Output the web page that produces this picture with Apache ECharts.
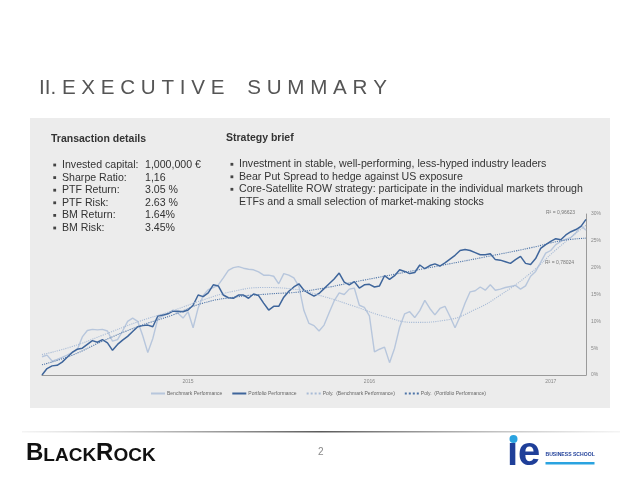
<!DOCTYPE html>
<html><head><meta charset="utf-8">
<script src="https://cdn.jsdelivr.net/npm/echarts@6/dist/echarts.min.js"></script>
<style>html,body{margin:0;padding:0;background:#fff}#c{width:638px;height:478px}</style>
</head><body><div id="c"></div>
<script>
// ---- data ----
const portfolio = [0,1.2,1.7,1.8,2.4,3.3,4.2,4.8,5.0,5.7,6.4,6.1,6.6,6.0,4.6,5.7,6.5,7.2,8.1,9.0,
9.2,9.3,9.0,11.0,11.2,11.4,11.9,11.9,11.8,12.1,13.0,14.9,14.6,15.3,16.8,16.6,14.9,14.4,14.3,14.9,
14.9,14.3,15.1,14.8,13.4,12.1,12.8,12.8,14.5,15.6,16.4,17.0,15.8,15.2,14.7,15.2,16.1,17.0,17.9,19.0,
17.3,16.8,17.4,16.2,16.8,16.9,16.4,16.6,18.5,17.8,18.5,19.6,19.3,18.9,19.1,20.5,19.8,20.4,20.7,20.3,
20.9,21.6,22.3,23.2,23.4,23.2,22.8,22.4,22.4,22.6,21.5,21.4,21.1,20.8,21.5,22.1,20.8,20.6,21.7,23.6,
24.3,24.9,25.4,25.2,26.1,26.7,27.1,27.7,29.0];
const benchmark = [3.4,3.7,2.6,2.9,3.3,3.7,4.2,4.7,7.1,8.3,8.5,8.4,8.5,8.2,6.3,6.6,8.2,10.0,10.6,10.0,
7.3,4.2,6.8,10.5,11.0,11.4,12.1,11.5,10.6,11.8,8.8,12.5,14.8,15.9,16.3,16.8,18.1,19.5,20.0,20.2,
19.9,19.7,19.6,19.2,18.6,18.6,18.4,17.0,18.9,18.6,18.1,16.5,12.0,9.6,9.2,8.2,9.3,11.6,13.8,15.3,
15.0,16.0,16.2,13.0,12.6,11.0,4.3,4.8,5.2,2.3,5.0,8.9,11.4,11.8,10.7,12.0,13.9,12.4,11.2,12.4,
12.8,10.9,8.8,10.9,13.4,15.5,15.7,16.4,15.8,16.8,15.8,16.0,16.3,16.5,16.7,16.0,16.6,18.4,19.3,21.0,
22.7,23.2,24.3,24.9,25.3,25.6,26.5,27.8,27.0];
// polynomial trend lines as drawn in the picture: [point index, value]
const benchPoly = [[0,3.8],[6,5.3],[12,7.4],[19,9.9],[26,12.0],[32,14.0],[38,15.6],[44,16.3],[50,16.0],
[56,14.6],[62,12.8],[68,10.9],[74,9.8],[80,10.2],[86,12.2],[91,14.9],[97,19.0],[102,23.3],[108,27.9]];
const portPoly = [[0,1.9],[6,3.7],[12,6.3],[19,9.0],[26,11.2],[32,13.4],[39,14.6],[45,15.1],[52,15.6],
[64,17.7],[78,20.2],[88,22.0],[97,23.7],[103,25.0],[108,25.5]];
const categories = portfolio.map((_, i) => String(i));
const xTickIndex = [29, 65, 101];
const xTickLabels = ['2015', '2016', '2017'];
const yTicks = [0, 5, 10, 15, 20, 25, 30];
const seriesNames = ['Benchmark Performance', 'Portfolio Performance',
  'Poly.  (Benchmark Performance)', 'Poly.  (Portfolio Performance)'];
const r2Labels = ['R² = 0,96623', 'R² = 0,78024'];
const leftRows = [['Invested capital:', '1,000,000 €'], ['Sharpe Ratio:', '1,16'], ['PTF Return:', '3.05 %'],
  ['PTF Risk:', '2.63 %'], ['BM Return:', '1.64%'], ['BM Risk:', '3.45%']];
const rightRows = ['Investment in stable, well-performing, less-hyped industry leaders',
  'Bear Put Spread to hedge against US exposure',
  'Core-Satellite ROW strategy: participate in the individual markets through',
  'ETFs and a small selection of market-making stocks'];

const FF = '"Liberation Sans", Arial, Helvetica, sans-serif';
const chart = echarts.init(document.getElementById('c'), null, {renderer: 'canvas'});

const g = [];
g.push({type: 'rect', z: -10, shape: {x: 30, y: 118, width: 580, height: 290}, style: {fill: '#ececec'}});
g.push({type: 'text', x: 39, y: 88, style: {text: 'II. E X E C U T I V E    S U M M A R Y', font: '20.6px ' + FF,
  fill: '#555', align: 'left', verticalAlign: 'middle'}});
g.push({type: 'text', x: 51, y: 139, style: {text: 'Transaction details', font: 'bold 10.5px ' + FF, fill: '#333', verticalAlign: 'middle'}});
g.push({type: 'text', x: 226, y: 138.5, style: {text: 'Strategy brief', font: 'bold 10.5px ' + FF, fill: '#333', verticalAlign: 'middle'}});
const leftY = [165, 177.6, 190.2, 202.8, 215.4, 228];
leftRows.forEach((r, i) => {
  g.push({type: 'rect', shape: {x: 53.3, y: leftY[i] - 1.4, width: 2.8, height: 2.8}, style: {fill: '#444'}});
  g.push({type: 'text', x: 62, y: leftY[i], style: {text: r[0], font: '10.6px ' + FF, fill: '#333', verticalAlign: 'middle'}});
  g.push({type: 'text', x: 145, y: leftY[i], style: {text: r[1], font: '10.6px ' + FF, fill: '#333', verticalAlign: 'middle'}});
});
const rightY = [164.3, 176.8, 189.3, 201.8];
rightRows.forEach((t, i) => {
  if (i < 3) g.push({type: 'rect', shape: {x: 230.5, y: rightY[i] - 1.4, width: 2.8, height: 2.8}, style: {fill: '#444'}});
  g.push({type: 'text', x: 239, y: rightY[i], style: {text: t, font: '10.6px ' + FF, fill: '#333', verticalAlign: 'middle'}});
});
g.push({type: 'text', x: 546, y: 212.5, style: {text: r2Labels[0], font: '5px ' + FF, fill: '#777', verticalAlign: 'middle'}});
g.push({type: 'text', x: 545, y: 262.5, style: {text: r2Labels[1], font: '5px ' + FF, fill: '#777', verticalAlign: 'middle'}});
// footer
g.push({type: 'rect', shape: {x: 22, y: 431, width: 598, height: 1.5}, style: {fill: new echarts.graphic.LinearGradient(0, 0, 1, 0, [
  {offset: 0, color: 'rgba(150,150,150,0.1)'}, {offset: 0.5, color: 'rgba(90,90,90,1)'}, {offset: 1, color: 'rgba(150,150,150,0.1)'}])}});
g.push({type: 'text', x: 26, y: 453, style: {text: '{b|B}{s|LACK}{b|R}{s|OCK}', verticalAlign: 'middle',
  rich: {b: {font: 'bold 24px ' + FF, fill: '#111', verticalAlign: 'bottom'}, s: {font: 'bold 19px ' + FF, fill: '#111', verticalAlign: 'bottom'}}}});
g.push({type: 'text', x: 318, y: 452, style: {text: '2', font: '10px ' + FF, fill: '#888', verticalAlign: 'middle'}});
g.push({type: 'text', x: 507, y: 454, style: {text: 'ıe', font: 'bold 40px ' + FF, fill: '#1f3f99', verticalAlign: 'middle'}});
g.push({type: 'circle', shape: {cx: 513.5, cy: 439, r: 4}, style: {fill: '#2aa3e0'}});
g.push({type: 'text', x: 545.5, y: 455, style: {text: 'BUSINESS SCHOOL', font: 'bold 5.1px ' + FF, fill: '#1f3f99', verticalAlign: 'middle'}});
g.push({type: 'rect', shape: {x: 545.5, y: 462, width: 49, height: 2.5}, style: {fill: '#2aa3e0'}});

const darkBlue = '#3e659b', lightBlue = '#b7c6dc';
chart.setOption({
  backgroundColor: '#ffffff',
  animation: false,
  textStyle: {fontFamily: FF},
  graphic: g,
  grid: {left: 42, right: 52, top: 214, bottom: 103},
  legend: {left: 150, top: 391, padding: 0, itemWidth: 14, itemHeight: 4, itemGap: 9,
    itemStyle: {opacity: 0},
    textStyle: {fontSize: 5, color: '#666', padding: [0, 0, 0, -3]}, data: seriesNames},
  xAxis: {type: 'category', data: categories, boundaryGap: false,
    axisLine: {lineStyle: {color: '#9a9a9a', width: 1.2}}, axisTick: {show: false},
    axisLabel: {fontSize: 5, color: '#888', margin: 4,
      interval: (i) => xTickIndex.includes(i),
      formatter: (v, i) => { const k = xTickIndex.indexOf(i); return k >= 0 ? xTickLabels[k] : ''; }},
    splitLine: {show: false}},
  yAxis: {type: 'value', position: 'right', min: yTicks[0], max: yTicks[yTicks.length - 1], interval: 5,
    axisLine: {show: true, lineStyle: {color: '#9a9a9a', width: 1}}, axisTick: {show: false},
    axisLabel: {fontSize: 5, color: '#888', margin: 5, formatter: '{value}%'}, splitLine: {show: false}},
  series: [
    {name: seriesNames[0], type: 'line', data: benchmark, symbol: 'none', lineStyle: {color: lightBlue, width: 1.4}, itemStyle: {color: lightBlue}},
    {name: seriesNames[1], type: 'line', data: portfolio, symbol: 'none', lineStyle: {color: darkBlue, width: 1.5}, itemStyle: {color: darkBlue}},
    {name: seriesNames[2], type: 'line', data: benchPoly, symbol: 'none', smooth: 0.5, lineStyle: {color: '#a8bbd6', width: 1.1, type: 'dotted'}, itemStyle: {color: '#a8bbd6'}},
    {name: seriesNames[3], type: 'line', data: portPoly, symbol: 'none', smooth: 0.5, lineStyle: {color: '#4d74a8', width: 1.1, type: 'dotted'}, itemStyle: {color: '#4d74a8'}}
  ]
});
</script></body></html>
